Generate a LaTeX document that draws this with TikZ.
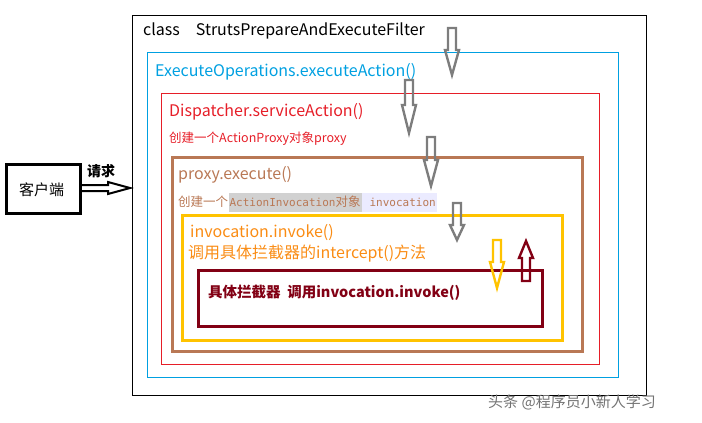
\documentclass[tikz,border=0pt]{standalone}
\usepackage{fontspec}
\setmainfont{Noto Sans CJK SC}
\newfontfamily\monof{DejaVu Sans Mono}
\definecolor{cblue}{RGB}{0,160,225}
\definecolor{cred}{RGB}{230,30,40}
\definecolor{cbrown}{RGB}{185,120,85}
\definecolor{cyel}{RGB}{255,195,0}
\definecolor{corange}{RGB}{250,140,20}
\definecolor{cdark}{RGB}{130,0,20}
\definecolor{cgray}{RGB}{125,125,125}
\newcommand\blkdown[5]{\draw[#5,line width=2.4pt,line join=miter] (#1-4,#2) -- (#1+4,#2) -- (#1+4,#3) -- (#1+7,#3) -- (#1,#4) -- (#1-7,#3) -- (#1-4,#3) -- cycle;}
\begin{document}
\begin{tikzpicture}[x=1pt,y=-1pt,
  lbl/.style={anchor=west,inner sep=0pt,font=\fontsize{16}{18}\selectfont},
  sm/.style={anchor=west,inner sep=0pt,font=\fontsize{12.5}{14}\selectfont}]
\useasboundingbox (0,0) rectangle (702,423);
\node[draw=black,line width=1pt,minimum width=514pt,minimum height=380pt,anchor=north west,inner sep=0] (outer) at (132,15) {};
\node[draw=cblue,line width=1pt,minimum width=471pt,minimum height=325pt,anchor=north west,inner sep=0] (blue) at (147,52) {};
\node[draw=cred,line width=1pt,minimum width=438pt,minimum height=271pt,anchor=north west,inner sep=0] (red) at (161,93) {};
\node[draw=cbrown,line width=3pt,minimum width=410pt,minimum height=194pt,anchor=north west,inner sep=0] (brown) at (171,156) {};
\node[draw=cyel,line width=3pt,minimum width=380pt,minimum height=125pt,anchor=north west,inner sep=0] (yel) at (181,214) {};
\node[draw=cdark,line width=3pt,minimum width=344pt,minimum height=56pt,anchor=north west,inner sep=0] (dark) at (197,269) {};
\node[draw=black,line width=3.2pt,minimum width=74pt,minimum height=49pt,anchor=north west,inner sep=0] (client) at (5,163) {};
\node[lbl,font=\fontsize{15}{17}\selectfont] (client t) at (19,190) {客户端};
\node[lbl,font=\bfseries\fontsize{14}{16}\selectfont] (req) at (87,171) {请求};
\node[lbl] (t1) at (143,31) {class\quad StrutsPrepareAndExecuteFilter};
\node[lbl,text=cblue] (t2) at (155,72) {ExecuteOperations.executeAction()};
\node[lbl,text=cred] (t3) at (169,112) {Dispatcher.serviceAction()};
\node[sm,text=cred] (t4) at (169,139) {创建一个ActionProxy对象proxy};
\node[lbl,text=cbrown] (t5) at (178,175) {proxy.execute()};
\node[sm,text=cbrown] (t6a) at (178,202) {创建一个};
\node[anchor=west,inner sep=1pt,fill=black!18,text=cbrown,font=\monof\fontsize{11}{12}\selectfont,minimum height=19pt] (t6b) at (t6a.east) {ActionInvocation{\rmfamily\fontsize{12.5}{14}\selectfont 对象}};
\node[anchor=west,inner sep=1pt,fill=blue!8,text=cbrown,font=\monof\fontsize{11}{12}\selectfont,minimum height=19pt] (t6c) at (t6b.east) {~invocation};
\node[lbl,text=corange] (t7) at (190,233) {invocation.invoke()};
\node[lbl,text=corange] (t8) at (188,254) {调用具体拦截器的intercept()方法};
\node[lbl,text=cdark,font=\bfseries\fontsize{14.5}{16}\selectfont] (t9) at (208,293) {具体拦截器\ \ 调用invocation.invoke()};
\node[lbl,text=black!55,font=\fontsize{15}{17}\selectfont] (wm) at (488,402) {头条 @程序员小新人学习};
\blkdown{452}{28}{50}{75}{cgray}
\blkdown{409}{80}{105}{133}{cgray}
\blkdown{431}{137}{160}{186}{cgray}
\blkdown{457}{203}{225}{240}{cgray}
\blkdown{497}{240}{262}{288}{cyel}
\draw[cdark,line width=2.4pt,line join=miter] (522,281) -- (530,281) -- (530,258) -- (533,258) -- (526,241) -- (519,258) -- (522,258) -- cycle;
\draw[black,line width=2pt,line join=miter] (client.east |- 0,185) -- (108,185) -- (108,182) -- (130,188) -- (108,194) -- (108,191) -- (client.east |- 0,191);
\end{tikzpicture}
\end{document}
